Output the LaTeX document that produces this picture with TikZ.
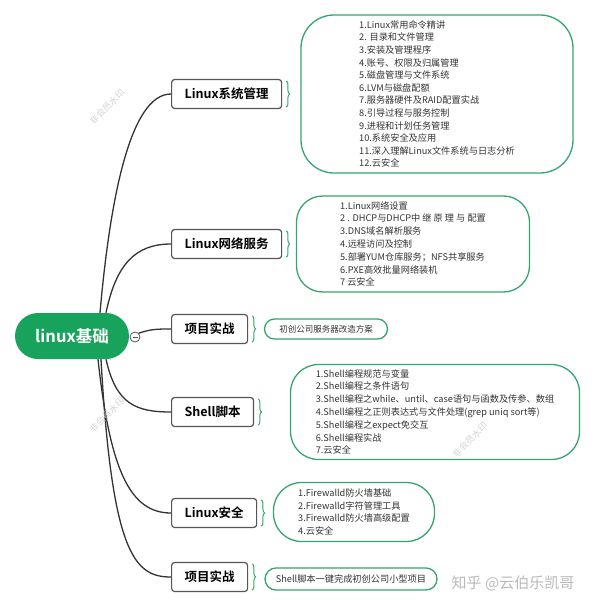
\documentclass[tikz,border=0pt]{standalone}
\usepackage{fontspec}
\setmainfont{Noto Sans CJK SC}[BoldFont={Noto Sans CJK SC Bold}]
\usetikzlibrary{decorations.pathreplacing,backgrounds}
\definecolor{rootgreen}{HTML}{18A35C}
\definecolor{leafgreen}{HTML}{35A56E}
\definecolor{boxgray}{HTML}{555555}
\definecolor{txtgray}{HTML}{333333}
\begin{document}
\begin{tikzpicture}[x=1pt,y=-1pt]
\tikzset{rootbox/.style={fill=rootgreen,rounded corners=23pt,minimum width=114pt,minimum height=46pt,text=white,font=\fontsize{16.5}{18}\selectfont\bfseries},
topic/.style={draw=boxgray,line width=1.2pt,fill=white,rounded corners=3pt,minimum height=29pt,inner xsep=13pt,anchor=west,text=black,font=\fontsize{12.5}{14}\selectfont\bfseries},
leaf/.style={draw=leafgreen,line width=1.3pt,align=left,text=txtgray,font=\fontsize{9.2}{12.8}\selectfont,inner sep=0pt},
branch/.style={draw=txtgray,line width=1.3pt},
curly/.style={draw=leafgreen,line width=1pt,decorate,decoration={brace,amplitude=3.5pt}},
watermark/.style={text=gray!35,rotate=45,font=\fontsize{9}{10}\selectfont}}
\useasboundingbox (0,0) rectangle (600,610);

\node[watermark] (wm1) at (107,107) {非会员水印};
\node[watermark] (wm2) at (107,415) {非会员水印};
\node[watermark] (wm3) at (470,440) {非会员水印};

\node[rootbox] (root) at (72,336) {linux基础};
\node[circle,draw=boxgray,line width=0.8pt,fill=white,minimum size=10pt,inner sep=0pt] (fold) at (135,337) {};
\draw[boxgray,line width=0.8pt] ([xshift=-2.5pt]fold.center) -- ([xshift=2.5pt]fold.center);

\node[topic] (sys) at (171,94) {Linux系统管理};
\node[topic] (net) at (171,244) {Linux网络服务};
\node[topic] (proj) at (171,329) {项目实战};
\node[topic] (shell) at (171,412) {Shell脚本};
\node[topic] (sec) at (171,513) {Linux安全};
\node[topic] (projb) at (171,577) {项目实战};

\begin{scope}[on background layer]
\draw[branch] ([xshift=28pt]root.north) .. controls +(10,-113) and +(-41,0) .. (sys.west);
\draw[branch] ([xshift=34pt]root.north) .. controls +(10,-48) and +(-36,0) .. (net.west);
\draw[branch] (fold.north east) .. controls +(12,-4) and +(-15,0) .. (proj.west);
\draw[branch] ([xshift=34pt]root.south) .. controls +(10,45) and +(-35,0) .. (shell.west);
\draw[branch] ([xshift=26pt]root.south) .. controls +(12,111) and +(-41,0) .. (sec.west);
\draw[branch] ([xshift=29pt]root.south) .. controls +(11,196) and +(-36,0) .. (projb.west);
\end{scope}

\foreach \t in {sys,net,proj,shell,sec,projb}
  \draw[curly] ([xshift=4pt,yshift=-2pt]\t.north east) -- ([xshift=4pt,yshift=2pt]\t.south east);

\node[leaf,rounded corners=33pt,minimum width=272pt,minimum height=158pt,font=\fontsize{9.2}{12.6}\selectfont] (sysl) at (437,94) {1.Linux常用命令精讲\\2. 目录和文件管理\\3.安装及管理程序\\4.账号、权限及归属管理\\5.磁盘管理与文件系统\\6.LVM与磁盘配额\\7.服务器硬件及RAID配置实战\\8.引导过程与服务控制\\9.进程和计划任务管理\\10.系统安全及应用\\11.深入理解Linux文件系统与日志分析\\12.云安全};
\node[leaf,rounded corners=26pt,minimum width=233pt,minimum height=96pt] (netl) at (413,244) {1.Linux网络设置\\2 . DHCP与DHCP中 继 原 理 与 配置\\3.DNS域名解析服务\\4.远程访问及控制\\5.部署YUM仓库服务；NFS共享服务\\6.PXE高效批量网络装机\\7 云安全};
\node[leaf,rounded corners=10pt,minimum width=123pt,minimum height=20pt,font=\fontsize{8.5}{10}\selectfont] (projl) at (326,329) {初创公司服务器改造方案};
\node[leaf,rounded corners=28pt,minimum width=289pt,minimum height=95pt] (shelll) at (435,412) {1.Shell编程规范与变量\\2.Shell编程之条件语句\\3.Shell编程之while、until、case语句与函数及传参、数组\\4.Shell编程之正则表达式与文件处理(grep uniq sort等)\\5.Shell编程之expect免交互\\6.Shell编程实战\\7.云安全};
\node[leaf,rounded corners=28pt,minimum width=161pt,minimum height=59pt] (secl) at (354,512) {1.Firewalld防火墙基础\\2.Firewalld字符管理工具\\3.Firewalld防火墙高级配置\\4.云安全};
\node[leaf,rounded corners=11pt,minimum width=172pt,minimum height=22pt] (projbl) at (351,579) {Shell脚本一键完成初创公司小型项目};

\node[text=gray!55,font=\fontsize{15}{16}\selectfont] (zhihu) at (513,583) {知乎 @云伯乐凯哥};
\end{tikzpicture}
\end{document}
